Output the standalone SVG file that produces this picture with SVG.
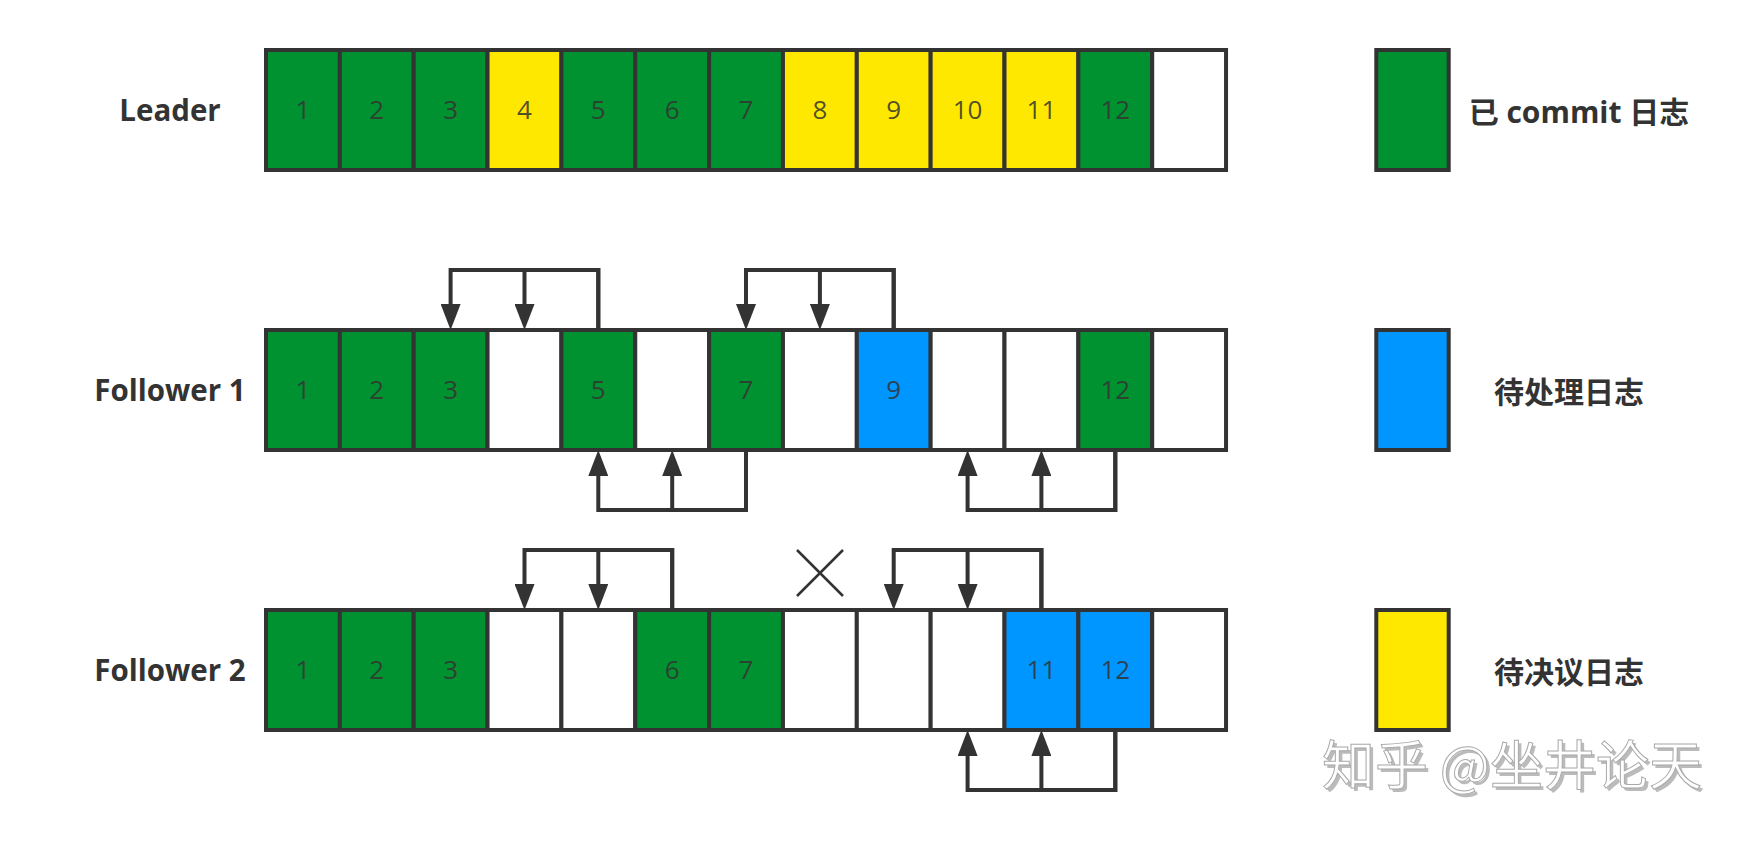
<svg xmlns="http://www.w3.org/2000/svg" width="1749" height="841" viewBox="0 0 1749 841">
<defs>
<style>
.c{stroke:#333;stroke-width:4}
.g{fill:#009130}.y{fill:#FFE800}.b{fill:#0096FF}.w{fill:#fff}
.n{font-family:"Open Sans","Liberation Sans",sans-serif;font-size:26px;fill:#333;fill-opacity:.85;text-anchor:middle}
.lbl{font-family:"Open Sans","Liberation Sans",sans-serif;font-size:29.5px;font-weight:bold;fill:#333;text-anchor:middle}
.leg{font-family:"Open Sans","Noto Sans CJK SC",sans-serif;font-size:30px;font-weight:bold;fill:#333;text-anchor:middle}
.con{fill:none;stroke:#333;stroke-width:4;stroke-linejoin:miter}
.wm{font-family:"Noto Sans CJK SC",sans-serif;font-size:53px}
</style>
<marker id="ah" markerUnits="userSpaceOnUse" markerWidth="26" markerHeight="20" refX="0" refY="10" orient="auto" viewBox="0 0 26 20">
<path d="M0,0 L26,10 L0,20 z" fill="#333"/>
</marker>
</defs>
<rect width="1749" height="841" fill="#fff"/>

<g id="labels">
<text class="lbl" x="170" y="121">Leader</text>
<text class="lbl" x="170" y="401">Follower 1</text>
<text class="lbl" x="170" y="681">Follower 2</text>
</g>

<g id="leader">
<g id="L1"><rect class="c g" x="266" y="50" width="73.85" height="120"/><text class="n" x="302.9" y="119">1</text></g>
<g id="L2"><rect class="c g" x="339.85" y="50" width="73.85" height="120"/><text class="n" x="376.8" y="119">2</text></g>
<g id="L3"><rect class="c g" x="413.7" y="50" width="73.85" height="120"/><text class="n" x="450.6" y="119">3</text></g>
<g id="L4"><rect class="c y" x="487.55" y="50" width="73.85" height="120"/><text class="n" x="524.5" y="119">4</text></g>
<g id="L5"><rect class="c g" x="561.4" y="50" width="73.85" height="120"/><text class="n" x="598.3" y="119">5</text></g>
<g id="L6"><rect class="c g" x="635.25" y="50" width="73.85" height="120"/><text class="n" x="672.2" y="119">6</text></g>
<g id="L7"><rect class="c g" x="709.1" y="50" width="73.85" height="120"/><text class="n" x="746" y="119">7</text></g>
<g id="L8"><rect class="c y" x="782.95" y="50" width="73.85" height="120"/><text class="n" x="819.9" y="119">8</text></g>
<g id="L9"><rect class="c y" x="856.8" y="50" width="73.85" height="120"/><text class="n" x="893.7" y="119">9</text></g>
<g id="L10"><rect class="c y" x="930.65" y="50" width="73.85" height="120"/><text class="n" x="967.6" y="119">10</text></g>
<g id="L11"><rect class="c y" x="1004.5" y="50" width="73.85" height="120"/><text class="n" x="1041.4" y="119">11</text></g>
<g id="L12"><rect class="c g" x="1078.35" y="50" width="73.85" height="120"/><text class="n" x="1115.3" y="119">12</text></g>
<g id="L13"><rect class="c w" x="1152.2" y="50" width="73.85" height="120"/></g>
</g>

<g id="follower1">
<g id="F1_1"><rect class="c g" x="266" y="330" width="73.85" height="120"/><text class="n" x="302.9" y="399">1</text></g>
<g id="F1_2"><rect class="c g" x="339.85" y="330" width="73.85" height="120"/><text class="n" x="376.8" y="399">2</text></g>
<g id="F1_3"><rect class="c g" x="413.7" y="330" width="73.85" height="120"/><text class="n" x="450.6" y="399">3</text></g>
<g id="F1_4"><rect class="c w" x="487.55" y="330" width="73.85" height="120"/></g>
<g id="F1_5"><rect class="c g" x="561.4" y="330" width="73.85" height="120"/><text class="n" x="598.3" y="399">5</text></g>
<g id="F1_6"><rect class="c w" x="635.25" y="330" width="73.85" height="120"/></g>
<g id="F1_7"><rect class="c g" x="709.1" y="330" width="73.85" height="120"/><text class="n" x="746" y="399">7</text></g>
<g id="F1_8"><rect class="c w" x="782.95" y="330" width="73.85" height="120"/></g>
<g id="F1_9"><rect class="c b" x="856.8" y="330" width="73.85" height="120"/><text class="n" x="893.7" y="399">9</text></g>
<g id="F1_10"><rect class="c w" x="930.65" y="330" width="73.85" height="120"/></g>
<g id="F1_11"><rect class="c w" x="1004.5" y="330" width="73.85" height="120"/></g>
<g id="F1_12"><rect class="c g" x="1078.35" y="330" width="73.85" height="120"/><text class="n" x="1115.3" y="399">12</text></g>
<g id="F1_13"><rect class="c w" x="1152.2" y="330" width="73.85" height="120"/></g>
</g>

<g id="follower2">
<g id="F2_1"><rect class="c g" x="266" y="610" width="73.85" height="120"/><text class="n" x="302.9" y="679">1</text></g>
<g id="F2_2"><rect class="c g" x="339.85" y="610" width="73.85" height="120"/><text class="n" x="376.8" y="679">2</text></g>
<g id="F2_3"><rect class="c g" x="413.7" y="610" width="73.85" height="120"/><text class="n" x="450.6" y="679">3</text></g>
<g id="F2_4"><rect class="c w" x="487.55" y="610" width="73.85" height="120"/></g>
<g id="F2_5"><rect class="c w" x="561.4" y="610" width="73.85" height="120"/></g>
<g id="F2_6"><rect class="c g" x="635.25" y="610" width="73.85" height="120"/><text class="n" x="672.2" y="679">6</text></g>
<g id="F2_7"><rect class="c g" x="709.1" y="610" width="73.85" height="120"/><text class="n" x="746" y="679">7</text></g>
<g id="F2_8"><rect class="c w" x="782.95" y="610" width="73.85" height="120"/></g>
<g id="F2_9"><rect class="c w" x="856.8" y="610" width="73.85" height="120"/></g>
<g id="F2_10"><rect class="c w" x="930.65" y="610" width="73.85" height="120"/></g>
<g id="F2_11"><rect class="c b" x="1004.5" y="610" width="73.85" height="120"/><text class="n" x="1041.4" y="679">11</text></g>
<g id="F2_12"><rect class="c b" x="1078.35" y="610" width="73.85" height="120"/><text class="n" x="1115.3" y="679">12</text></g>
<g id="F2_13"><rect class="c w" x="1152.2" y="610" width="73.85" height="120"/></g>
</g>

<g id="connectors">
<path class="con" d="M598.3,330 V270 H450.6 V304" marker-end="url(#ah)"/>
<path class="con" d="M598.3,330 V270 H524.5 V304" marker-end="url(#ah)"/>
<path class="con" d="M893.7,330 V270 H746 V304" marker-end="url(#ah)"/>
<path class="con" d="M893.7,330 V270 H819.9 V304" marker-end="url(#ah)"/>
<path class="con" d="M746,450 V510 H598.3 V476" marker-end="url(#ah)"/>
<path class="con" d="M746,450 V510 H672.2 V476" marker-end="url(#ah)"/>
<path class="con" d="M1115.3,450 V510 H967.6 V476" marker-end="url(#ah)"/>
<path class="con" d="M1115.3,450 V510 H1041.4 V476" marker-end="url(#ah)"/>
<path class="con" d="M672.2,610 V550 H524.5 V584" marker-end="url(#ah)"/>
<path class="con" d="M672.2,610 V550 H598.3 V584" marker-end="url(#ah)"/>
<path class="con" d="M1041.4,610 V550 H893.7 V584" marker-end="url(#ah)"/>
<path class="con" d="M1041.4,610 V550 H967.6 V584" marker-end="url(#ah)"/>
<path class="con" d="M1115.3,730 V790 H967.6 V756" marker-end="url(#ah)"/>
<path class="con" d="M1115.3,730 V790 H1041.4 V756" marker-end="url(#ah)"/>
</g>

<g id="cross">
<path d="M797,550 L843,596 M843,550 L797,596" stroke="#333" stroke-width="2.5" fill="none"/>
</g>

<g id="legend-commit">
<rect class="c g" x="1376.3" y="50" width="72.4" height="120"/>
<text class="leg" x="1579" y="123">已 commit 日志</text>
</g>
<g id="legend-pending">
<rect class="c b" x="1376.3" y="330" width="72.4" height="120"/>
<text class="leg" x="1569" y="403">待处理日志</text>
</g>
<g id="legend-voting">
<rect class="c y" x="1376.3" y="610" width="72.4" height="120"/>
<text class="leg" x="1569" y="683">待决议日志</text>
</g>

<g id="watermark">
<text class="wm" x="1325" y="788" fill="#bbb">知乎 @坐井论天</text>
<text class="wm" x="1322" y="785" fill="#fff" stroke="#aaa" stroke-width="1">知乎 @坐井论天</text>
</g>
</svg>
